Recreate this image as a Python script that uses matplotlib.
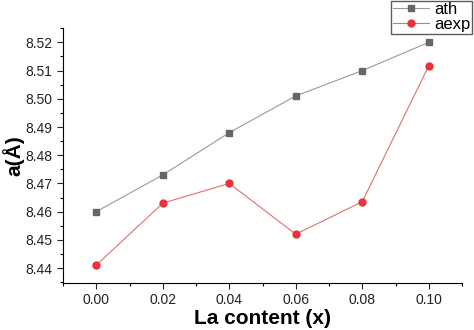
import matplotlib.pyplot as plt
from matplotlib.ticker import MultipleLocator

plt.rcParams['font.family'] = ['Liberation Sans', 'DejaVu Sans']

la_content = [0.00, 0.02, 0.04, 0.06, 0.08, 0.10]
a_th = [8.460, 8.473, 8.488, 8.501, 8.510, 8.520]
a_exp = [8.441, 8.463, 8.470, 8.452, 8.4635, 8.5117]

fig = plt.figure(figsize=(4.74, 3.30), dpi=100)
ax = fig.add_axes([63 / 474, 1 - 283 / 330, 399 / 474, 255 / 330])

ax.plot(la_content, a_th, color="#9a9a9a", lw=0.8, marker="s", ms=4.2,
        mfc="#666666", mec="#666666", label="ath")
ax.plot(la_content, a_exp, color="#e07070", lw=0.8, marker="o", ms=5,
        mfc="#e8323c", mec="#e8323c", label="aexp")

ax.set_xlim(-0.01, 0.11)
ax.set_ylim(8.4347, 8.5251)
ax.set_xticks(la_content)
ax.xaxis.set_minor_locator(MultipleLocator(0.01))
ax.yaxis.set_major_locator(MultipleLocator(0.01))
ax.yaxis.set_minor_locator(MultipleLocator(0.005))
ax.xaxis.set_major_formatter(plt.FormatStrFormatter("%.2f"))
ax.yaxis.set_major_formatter(plt.FormatStrFormatter("%.2f"))

ax.spines["top"].set_visible(False)
ax.spines["right"].set_visible(False)
ax.tick_params(which="major", direction="out", length=4, width=0.8,
               labelsize=10, colors="#222222")
ax.tick_params(which="minor", direction="out", length=2.5, width=0.8)

ax.set_xlabel("La content (x)", fontsize=15, fontweight="bold")
ax.set_ylabel("a(Å)", fontsize=15, fontweight="bold")
ax.xaxis.set_label_coords(0.5, -0.1)
ax.yaxis.set_label_coords(-0.097, 0.5)

fig.legend(loc="lower left", bbox_to_anchor=(391 / 474, 1 - 34 / 330),
           borderaxespad=0, fontsize=12,
           frameon=True, fancybox=False, edgecolor="#333333",
           handlelength=2.2, borderpad=0.1, labelspacing=0.0,
           handletextpad=0.3)

plt.savefig("out.png", dpi=100)
